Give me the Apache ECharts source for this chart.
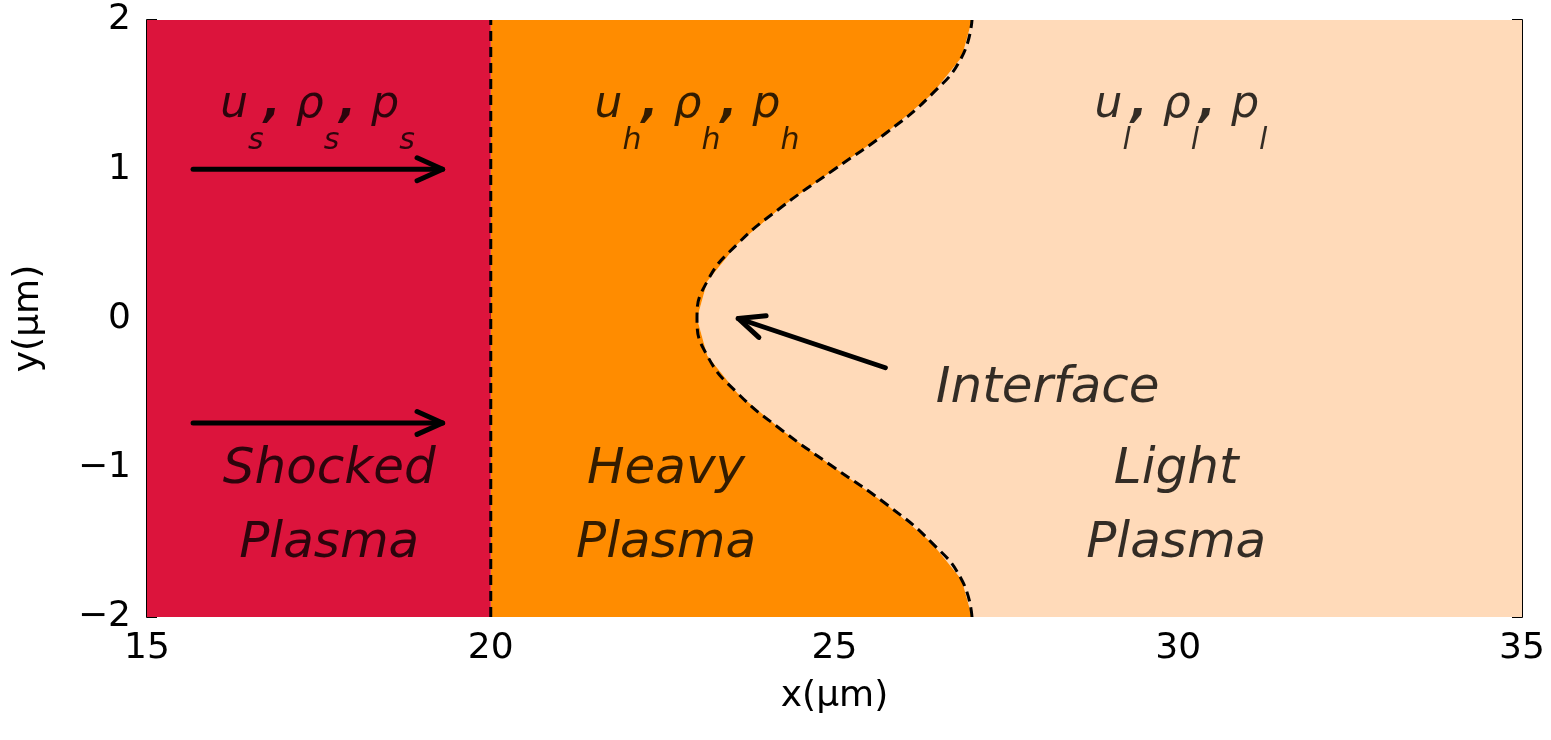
<!DOCTYPE html>
<html><head><meta charset="utf-8">
<script src="https://cdn.jsdelivr.net/npm/echarts@6/dist/echarts.min.js"></script>
<style>html,body{margin:0;padding:0;background:#fff}#c{width:1551px;height:740px}</style>
</head><body><div id="c"></div>
<script>
const xRange = [15, 35];
const yRange = [-2, 2];
const shockFront = 20;
const interfaceY = [-2, -1.75, -1.5, -1.25, -1, -0.75, -0.5, -0.25, 0, 0.25, 0.5, 0.75, 1, 1.25, 1.5, 1.75, 2];
const interfaceX = [27, 26.85, 26.41, 25.77, 25, 24.24, 23.59, 23.15, 23, 23.15, 23.59, 24.24, 25, 25.77, 26.41, 26.85, 27];
const arrows = [[[15.67, 1], [19.3, 1]], [[15.67, -0.7], [19.3, -0.7]], [[25.74, -0.33], [23.6, 0]]];
const colors = {shocked: '#DC143C', heavy: '#FF8C00', light: '#FFDAB9'};
const F = 'DejaVu Sans';
const curve = interfaceX.map((x, i) => [x, interfaceY[i]]);

const chart = echarts.init(document.getElementById('c'));
const axisCommon = {
  axisLine: {lineStyle: {color: '#000', width: 2}},
  axisTick: {inside: true, length: 10, lineStyle: {color: '#000', width: 2}},
  minorTick: {show: true, splitNumber: 5, length: 5, lineStyle: {color: '#000', width: 1.5}},
  splitLine: {show: false}
};
const mathRich = {
  b: {fontFamily: F, fontStyle: 'italic', fontSize: 44, color: '#000'},
  s: {fontFamily: F, fontStyle: 'italic', fontSize: 30, color: '#000', verticalAlign: 'bottom', padding: [0, 0, -14, 0]},
  c: {fontFamily: F, fontSize: 44, color: '#000', fontWeight: 'bold'}
};
function mathLabel(sub) {
  return `{b|u}{s|${sub}}{c|, }{b|ρ}{s|${sub}}{c|, }{b|p}{s|${sub}}`;
}
const texts = [
  {value: [17.48, 1.43], t: mathLabel('s'), rich: true},
  {value: [23.0, 1.43], t: mathLabel('h'), rich: true},
  {value: [30.04, 1.43], t: mathLabel('l'), rich: true},
  {value: [17.65, -1.26], t: 'Shocked\nPlasma'},
  {value: [22.55, -1.26], t: 'Heavy\nPlasma'},
  {value: [29.97, -1.26], t: 'Light\nPlasma'},
  {value: [28.1, -0.47], t: 'Interface'}
];
chart.setOption({
  animation: false,
  grid: {left: 147, right: 29, top: 20, bottom: 123},
  xAxis: [
    Object.assign({type: 'value', min: xRange[0], max: xRange[1], interval: 5, position: 'bottom',
      name: 'x(μm)', nameLocation: 'middle', nameGap: 62,
      nameTextStyle: {fontFamily: F, fontSize: 36, color: '#000'},
      axisLabel: {fontFamily: F, fontSize: 36, color: '#000', margin: 14}}, axisCommon),
    Object.assign({type: 'value', min: xRange[0], max: xRange[1], interval: 5, position: 'top',
      axisLabel: {show: false}}, axisCommon)
  ],
  yAxis: [
    Object.assign({type: 'value', min: yRange[0], max: yRange[1], interval: 1, position: 'left',
      name: 'y(μm)', nameLocation: 'middle', nameGap: 100, nameRotate: 90,
      nameTextStyle: {fontFamily: F, fontSize: 36, color: '#000'},
      axisLabel: {fontFamily: F, fontSize: 36, color: '#000', margin: 16,
        formatter: v => v < 0 ? '−' + (-v) : String(v)}}, axisCommon),
    Object.assign({type: 'value', min: yRange[0], max: yRange[1], interval: 1, position: 'right',
      axisLabel: {show: false}}, axisCommon)
  ],
  series: [
    {
      type: 'custom', z: 1, data: [0], silent: true,
      renderItem(params, api) {
        const c = p => api.coord(p);
        const pc = curve.map(c);
        const red = [c([xRange[0], yRange[0]]), c([shockFront, yRange[0]]), c([shockFront, yRange[1]]), c([xRange[0], yRange[1]])];
        const orange = [c([shockFront, yRange[0]])].concat(pc).concat([c([shockFront, yRange[1]])]);
        const light = [c([xRange[1], yRange[0]])].concat(pc).concat([c([xRange[1], yRange[1]])]);
        return {type: 'group', children: [
          {type: 'polygon', shape: {points: light}, style: {fill: colors.light}},
          {type: 'polygon', shape: {points: orange}, style: {fill: colors.heavy}},
          {type: 'polygon', shape: {points: red}, style: {fill: colors.shocked}}
        ]};
      }
    },
    {
      type: 'line', z: 3, data: curve, smooth: true, symbol: 'none',
      lineStyle: {color: '#000', width: 3, type: [10, 6]}
    },
    {
      type: 'line', z: 3, data: [[shockFront, yRange[0]], [shockFront, yRange[1]]], symbol: 'none',
      lineStyle: {color: '#000', width: 3, type: [10, 6]}
    },
    {
      type: 'custom', z: 4, data: arrows.map((a, i) => i), silent: true,
      renderItem(params, api) {
        const a = arrows[params.dataIndex];
        const p0 = api.coord(a[0]), p1 = api.coord(a[1]);
        const ang = Math.atan2(p1[1] - p0[1], p1[0] - p0[0]);
        const L = 28, w = 0.42;
        const h1 = [p1[0] - L * Math.cos(ang - w), p1[1] - L * Math.sin(ang - w)];
        const h2 = [p1[0] - L * Math.cos(ang + w), p1[1] - L * Math.sin(ang + w)];
        const st = {stroke: '#000', lineWidth: 5, fill: null, lineCap: 'round', lineJoin: 'round'};
        return {type: 'group', children: [
          {type: 'polyline', shape: {points: [p0, p1]}, style: st},
          {type: 'polyline', shape: {points: [h1, p1, h2]}, style: st}
        ]};
      }
    },
    {
      type: 'scatter', z: 5, symbolSize: 0, silent: true,
      data: texts.map(t => ({value: t.value, label: {
        show: true, position: 'inside', formatter: t.t,
        rich: t.rich ? mathRich : undefined,
        fontFamily: F, fontStyle: 'italic', fontSize: 50, color: '#000', lineHeight: 74, align: 'center'
      }}))
    }
  ]
});
</script></body></html>
